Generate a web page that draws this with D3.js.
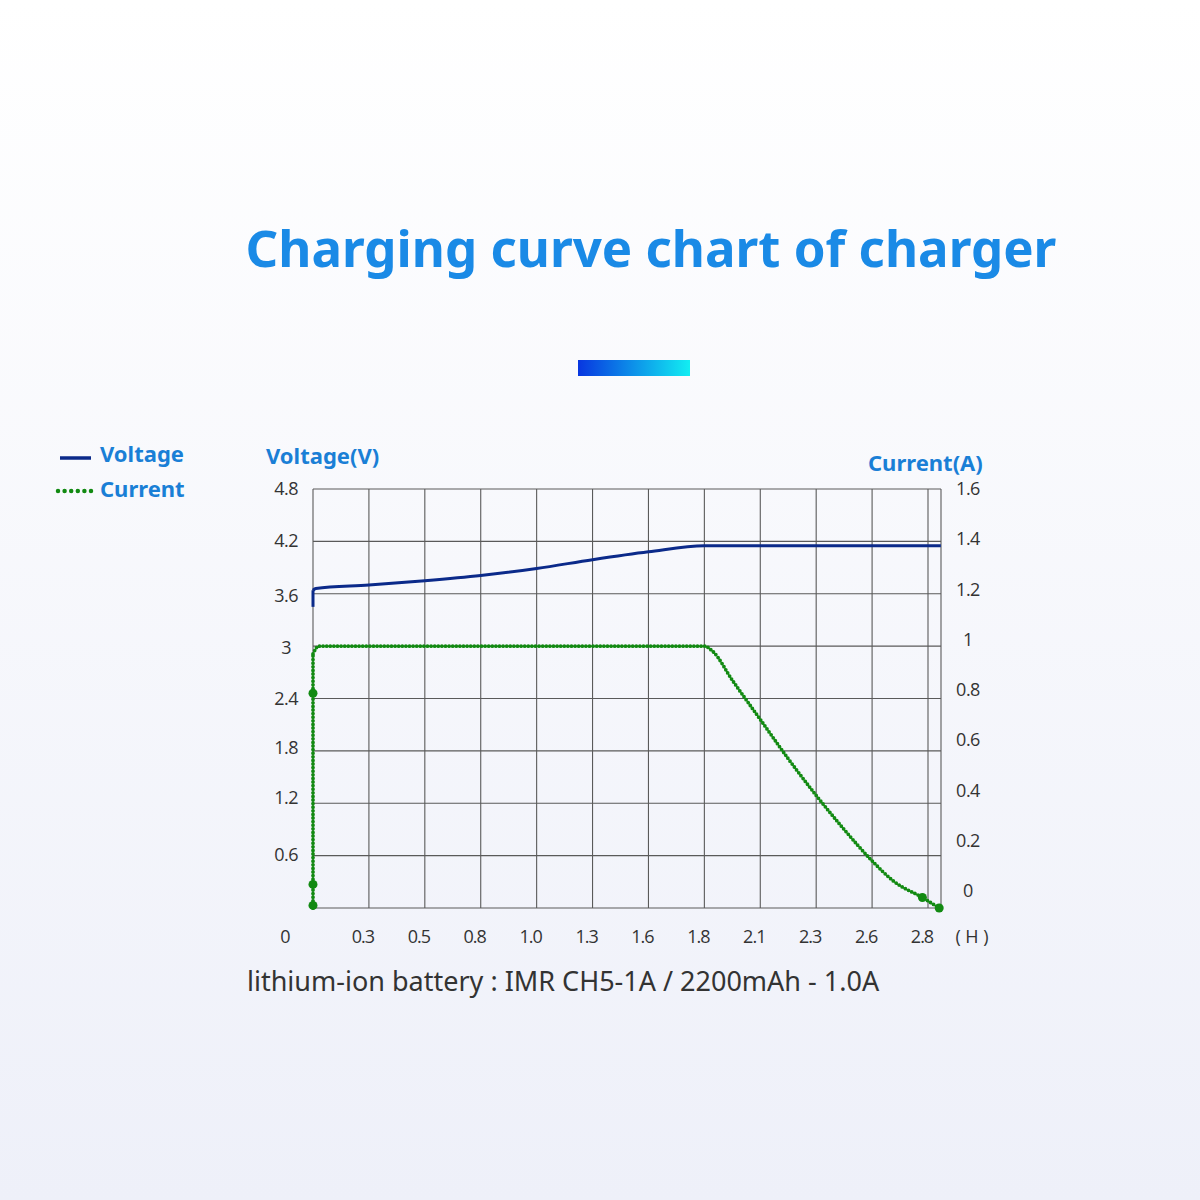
<!DOCTYPE html>
<html><head><meta charset="utf-8">
<script src="https://cdn.jsdelivr.net/npm/d3@7"></script>
<style>body{margin:0}svg{display:block}</style>
</head><body>
<script>
// Data
const xTickLabels = ["0","0.3","0.5","0.8","1.0","1.3","1.6","1.8","2.1","2.3","2.6","2.8"]; // grid index 0..11
const voltTicks = [0.6,1.2,1.8,2.4,3,3.6,4.2,4.8];
const currTicks = [0,0.2,0.4,0.6,0.8,1,1.2,1.4,1.6];
// x in grid-index units, voltage in V
const voltStartX = [0, 0];
const voltStartY = [3.45, 3.64];
const voltX = [0, 0.05, 1, 2, 3, 4, 5, 6, 7, 11.23];
const voltY = [3.64, 3.66, 3.70, 3.75, 3.81, 3.89, 3.99, 4.08, 4.15, 4.15];
// current in A
const currStartX = [0, 0];
const currStartY = [0, 0.97];
const currX = [0, 0.1, 7, 7.15, 7.5, 8, 8.5, 9, 9.5, 10, 10.4, 10.9, 11.2];
const currY = [0.97, 1.0, 1.0, 0.98, 0.87, 0.72, 0.57, 0.43, 0.30, 0.18, 0.10, 0.04, 0];
const currDots = [[0,0.01],[0,0.09],[0,0.82],[10.9,0.04],[11.2,0]];

const W=1200,H=1200;
const svg=d3.select("body").append("svg").attr("width",W).attr("height",H);
const defs=svg.append("defs");
const bg=defs.append("linearGradient").attr("id","bg").attr("x1",0).attr("y1",0).attr("x2",0).attr("y2",1);
bg.append("stop").attr("offset","0").attr("stop-color","#ffffff");
bg.append("stop").attr("offset","1").attr("stop-color","#eef0f9");
const bar=defs.append("linearGradient").attr("id","bar");
bar.append("stop").attr("offset","0").attr("stop-color","#0836e0");
bar.append("stop").attr("offset","1").attr("stop-color","#12eef2");
svg.append("rect").attr("width",W).attr("height",H).attr("fill","url(#bg)");

svg.append("text").attr("x",651).attr("y",267).attr("text-anchor","middle")
 .attr("font-family","Noto Sans").attr("font-weight","bold").attr("font-size",51)
 .attr("fill","#1a8ae6").text("Charging curve chart of charger");
svg.append("rect").attr("x",578).attr("y",360).attr("width",112).attr("height",16).attr("fill","url(#bar)");

const x=d3.scaleLinear().domain([0,11]).range([313,928]);
const xEnd=941;
const yV=d3.scaleLinear().domain([0,4.8]).range([908,489]);
const yC=d3.scaleLinear().domain([0,1.6]).range([908,489]);
const yCLabel=d3.scaleLinear().domain([0,1.6]).range([891,489]);

const g=svg.append("g");
const gridX=d3.range(0,12);
g.selectAll(".vx").data(gridX).join("line").attr("x1",d=>x(d)).attr("x2",d=>x(d))
 .attr("y1",489).attr("y2",908).attr("stroke","#5a5a5a").attr("stroke-width",1.1);
g.append("line").attr("x1",xEnd).attr("x2",xEnd).attr("y1",489).attr("y2",908).attr("stroke","#5a5a5a").attr("stroke-width",1.1);
g.selectAll(".hy").data([0].concat(voltTicks)).join("line").attr("x1",313).attr("x2",xEnd)
 .attr("y1",d=>yV(d)).attr("y2",d=>yV(d)).attr("stroke","#5a5a5a").attr("stroke-width",1.1);

const tf="Open Sans";
const leftOff={4.8:0,4.2:0,3.6:2,3:2,2.4:0,1.8:-3,1.2:-5,0.6:-1};
g.selectAll(".lt").data(voltTicks).join("text").attr("x",d=>d===3?291:298).attr("y",d=>yV(d)+leftOff[d]+6)
 .attr("text-anchor","end").attr("font-family",tf).attr("font-size",18).attr("fill","#333").attr("letter-spacing",-0.5).text(d=>d);
g.selectAll(".rt").data(currTicks).join("text").attr("x",968).attr("y",d=>yCLabel(d)+6)
 .attr("text-anchor","middle").attr("font-family",tf).attr("font-size",18).attr("fill","#333").attr("letter-spacing",-0.5).text(d=>d);
g.selectAll(".xt").data(xTickLabels).join("text").attr("x",(d,i)=>i===0?285:x(i)-6).attr("y",943)
 .attr("text-anchor","middle").attr("font-family",tf).attr("font-size",18).attr("fill","#333").attr("letter-spacing",-1).text(d=>d);
svg.append("text").attr("x",972).attr("y",943).attr("text-anchor","middle").attr("font-family",tf).attr("font-size",18).attr("fill","#333").text("( H )");

const lin=(sy)=>d3.line().x(d=>x(d[0])).y(d=>sy(d[1]));
const smooth=(sy)=>d3.line().x(d=>x(d[0])).y(d=>sy(d[1])).curve(d3.curveMonotoneX);
svg.append("path").datum(voltStartX.map((v,i)=>[v,voltStartY[i]])).attr("d",lin(yV))
 .attr("fill","none").attr("stroke","#0b2a8a").attr("stroke-width",3);
svg.append("path").datum(voltX.map((v,i)=>[v,voltY[i]])).attr("d",smooth(yV))
 .attr("fill","none").attr("stroke","#0b2a8a").attr("stroke-width",3);
const dotted=(sel)=>sel.attr("fill","none").attr("stroke","#128a12").attr("stroke-width",3.8).attr("stroke-linecap","round").attr("stroke-dasharray","0 3.6");
svg.append("path").datum(currStartX.map((v,i)=>[v,currStartY[i]])).attr("d",lin(yC)).call(dotted);
svg.append("path").datum(currX.map((v,i)=>[v,currY[i]])).attr("d",smooth(yC)).call(dotted);
svg.selectAll(".cd").data(currDots).join("circle").attr("cx",d=>x(d[0])).attr("cy",d=>yC(d[1])).attr("r",4.5).attr("fill","#128a12");

const bl="#1a7fd6";
svg.append("text").attr("x",266).attr("y",464).attr("font-family","Noto Sans").attr("font-weight","bold").attr("font-size",22).attr("fill",bl).text("Voltage(V)");
svg.append("text").attr("x",868).attr("y",471).attr("font-family","Noto Sans").attr("font-weight","bold").attr("font-size",22).attr("fill",bl).text("Current(A)");
svg.append("line").attr("x1",60).attr("x2",91).attr("y1",458).attr("y2",458).attr("stroke","#0b2a8a").attr("stroke-width",3.5);
svg.append("text").attr("x",100).attr("y",462).attr("font-family","Noto Sans").attr("font-weight","bold").attr("font-size",22).attr("fill",bl).text("Voltage");
svg.append("line").attr("x1",58).attr("x2",92).attr("y1",491).attr("y2",491).attr("stroke","#128a12").attr("stroke-width",4.5).attr("stroke-linecap","round").attr("stroke-dasharray","0 6.6");
svg.append("text").attr("x",100).attr("y",497).attr("font-family","Noto Sans").attr("font-weight","bold").attr("font-size",22).attr("fill",bl).text("Current");
svg.append("text").attr("x",247).attr("y",991).attr("font-family","Noto Sans").attr("font-size",27).attr("fill","#333")
 .text("lithium-ion battery : IMR CH5-1A  / 2200mAh - 1.0A");
</script>
</body></html>
